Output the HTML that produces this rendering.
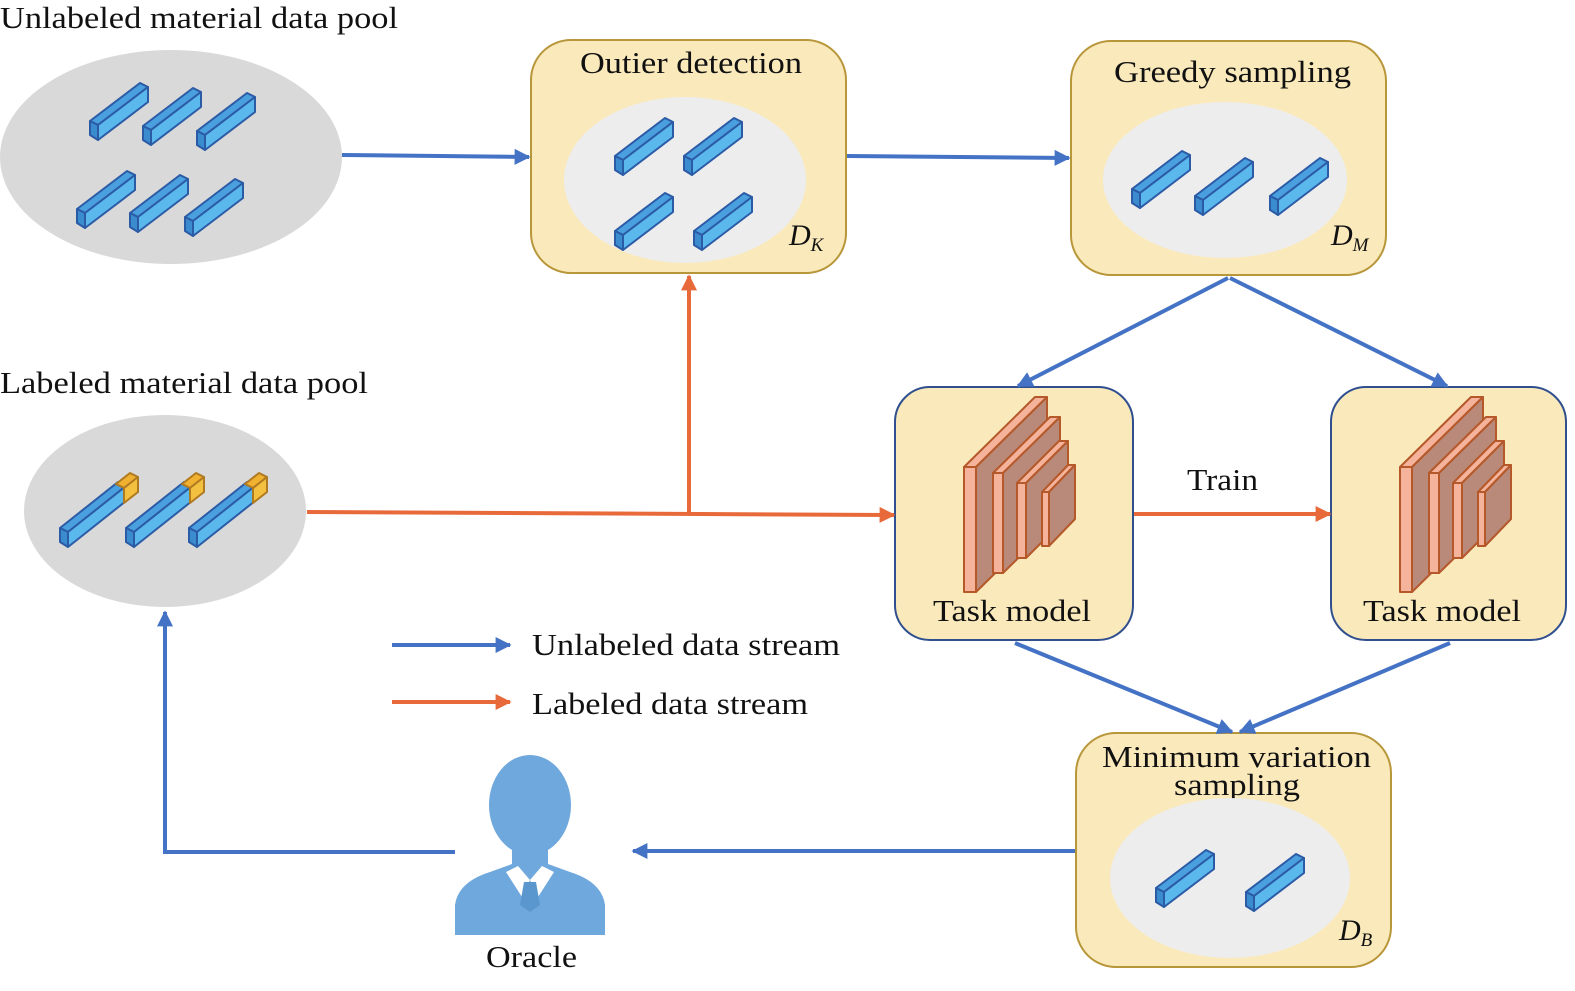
<!DOCTYPE html>
<html><head><meta charset="utf-8"><style>
html,body{margin:0;padding:0;background:#fff;}
svg{display:block;}
text{font-family:"Liberation Serif",serif;fill:#111;}
</style></head><body>
<svg width="1575" height="991" viewBox="0 0 1575 991" xmlns="http://www.w3.org/2000/svg">
<defs>
<g id="bar" stroke="#2c5ba6" stroke-width="2" stroke-linejoin="round">
  <polygon points="0,0 50,-38 58,-34 8,4" fill="#4a9fde"/>
  <polygon points="8,4 58,-34 58,-19 8,19" fill="#5bb8ec"/>
  <polygon points="0,0 8,4 8,19 0,14" fill="#3a8ccf"/>
</g>
<g id="lbar" stroke="#2c5ba6" stroke-width="2" stroke-linejoin="round">
  <polygon points="0,0 58,-46 66,-42 8,4" fill="#4a9fde"/>
  <polygon points="8,4 66,-42 66,-27 8,19" fill="#5bb8ec"/>
  <polygon points="0,0 8,4 8,19 0,14" fill="#3a8ccf"/>
  <polygon points="56,-44 70,-55 78,-51 64,-40" fill="#f0b030" stroke="#b07a20"/>
  <polygon points="64,-40 78,-51 78,-36 64,-25" fill="#f4c040" stroke="#b07a20"/>
</g>
<g id="model" stroke="#b5582a" stroke-width="2" stroke-linejoin="round">
  <polygon points="964,467 1035,397 1047,397 976,467" fill="#f4b39a"/>
  <polygon points="976,467 1047,397 1047,522 976,592" fill="#b98a7a"/>
  <rect x="964" y="467" width="12" height="125" fill="#f4b39a"/>
  <polygon points="993,473 1050,417 1060,417 1003,473" fill="#f4b39a"/>
  <polygon points="1003,473 1060,417 1060,517 1003,573" fill="#b98a7a"/>
  <rect x="993" y="473" width="10" height="100" fill="#f4b39a"/>
  <polygon points="1017,483 1059,441 1068,441 1026,483" fill="#f4b39a"/>
  <polygon points="1026,483 1068,441 1068,516 1026,558" fill="#b98a7a"/>
  <rect x="1017" y="483" width="9" height="75" fill="#f4b39a"/>
  <polygon points="1042,492 1068,465 1075,465 1049,492" fill="#f4b39a"/>
  <polygon points="1049,492 1075,465 1075,519 1049,546" fill="#b98a7a"/>
  <rect x="1042" y="492" width="7" height="54" fill="#f4b39a"/>
</g>
<marker id="ab" viewBox="0 0 10 10" refX="9" refY="5" markerWidth="4.5" markerHeight="4" orient="auto" markerUnits="strokeWidth"><path d="M0,0 L10,5 L0,10 z" fill="#4472c4"/></marker>
<marker id="ao" viewBox="0 0 10 10" refX="9" refY="5" markerWidth="4.5" markerHeight="4" orient="auto" markerUnits="strokeWidth"><path d="M0,0 L10,5 L0,10 z" fill="#e8693a"/></marker>
</defs>

<!-- pools -->
<text x="0" y="28" font-size="31" textLength="398" lengthAdjust="spacingAndGlyphs">Unlabeled material data pool</text>
<ellipse cx="171" cy="157" rx="171" ry="107" fill="#d9d9d9"/>
<use href="#bar" x="90" y="121"/><use href="#bar" x="143" y="126"/><use href="#bar" x="197" y="131"/>
<use href="#bar" x="77" y="209"/><use href="#bar" x="130" y="213"/><use href="#bar" x="185" y="217"/>

<text x="0" y="393" font-size="31" textLength="368" lengthAdjust="spacingAndGlyphs">Labeled material data pool</text>
<ellipse cx="165" cy="511" rx="141" ry="96" fill="#d9d9d9"/>
<use href="#lbar" x="60" y="528"/><use href="#lbar" x="126" y="528"/><use href="#lbar" x="189" y="528"/>

<!-- Outlier box -->
<rect x="531" y="40" width="315" height="233" rx="40" fill="#fae9bb" stroke="#b8963a" stroke-width="2"/>
<text x="580" y="73" font-size="31" textLength="222" lengthAdjust="spacingAndGlyphs">Outier detection</text>
<ellipse cx="685" cy="180" rx="121" ry="83" fill="#ededed"/>
<use href="#bar" x="615" y="156"/><use href="#bar" x="684" y="156"/>
<use href="#bar" x="615" y="231"/><use href="#bar" x="694" y="231"/>
<text x="789" y="245" font-size="30" font-style="italic">D<tspan font-size="19" dy="6">K</tspan></text>

<!-- Greedy box -->
<rect x="1071" y="41" width="315" height="234" rx="40" fill="#fae9bb" stroke="#b8963a" stroke-width="2"/>
<text x="1114" y="82" font-size="31" textLength="237" lengthAdjust="spacingAndGlyphs">Greedy sampling</text>
<ellipse cx="1225" cy="180" rx="122" ry="78" fill="#ededed"/>
<use href="#bar" x="1132" y="189"/><use href="#bar" x="1195" y="196"/><use href="#bar" x="1270" y="196"/>
<text x="1331" y="245" font-size="30" font-style="italic">D<tspan font-size="19" dy="6">M</tspan></text>

<!-- Task models -->
<rect x="895" y="387" width="238" height="253" rx="35" fill="#fae9bb" stroke="#2f4f8f" stroke-width="2"/>
<use href="#model"/>
<text x="933" y="621" font-size="31" textLength="158" lengthAdjust="spacingAndGlyphs">Task model</text>
<rect x="1331" y="387" width="235" height="253" rx="35" fill="#fae9bb" stroke="#2f4f8f" stroke-width="2"/>
<use href="#model" x="436"/>
<text x="1363" y="621" font-size="31" textLength="158" lengthAdjust="spacingAndGlyphs">Task model</text>
<text x="1187" y="490" font-size="31" textLength="71" lengthAdjust="spacingAndGlyphs">Train</text>

<!-- Min variation box -->
<rect x="1076" y="733" width="315" height="234" rx="40" fill="#fae9bb" stroke="#b8963a" stroke-width="2"/>
<text x="1102" y="767" font-size="31" textLength="269" lengthAdjust="spacingAndGlyphs">Minimum variation</text>
<text x="1174" y="795" font-size="31" textLength="126" lengthAdjust="spacingAndGlyphs">sampling</text>
<ellipse cx="1230" cy="878" rx="120" ry="80" fill="#ededed"/>
<use href="#bar" x="1156" y="888"/><use href="#bar" x="1246" y="892"/>
<text x="1339" y="940" font-size="30" font-style="italic">D<tspan font-size="19" dy="6">B</tspan></text>

<!-- Oracle -->
<g fill="#6fa8dc">
  <path d="M455,935 L455,905 Q458,882 490,872 L512,864 L548,864 L570,872 Q602,882 605,905 L605,935 Z"/>
  <rect x="512" y="840" width="36" height="30"/>
  <ellipse cx="530" cy="805" rx="41" ry="50"/>
</g>
<polygon points="506,872 518,866 530,880 522,897" fill="#fff"/>
<polygon points="554,872 542,866 530,880 538,897" fill="#fff"/>
<polygon points="524,882 536,882 540,905 530,912 520,905" fill="#5b97cf"/>
<text x="486" y="967" font-size="31" textLength="91" lengthAdjust="spacingAndGlyphs">Oracle</text>

<!-- Arrows -->
<g stroke-width="4" fill="none">
  <line x1="342" y1="155" x2="529" y2="157" stroke="#4472c4" marker-end="url(#ab)"/>
  <line x1="847" y1="156" x2="1069" y2="158" stroke="#4472c4" marker-end="url(#ab)"/>
  <line x1="1228" y1="278" x2="1018" y2="386" stroke="#4472c4" marker-end="url(#ab)"/>
  <line x1="1230" y1="278" x2="1447" y2="386" stroke="#4472c4" marker-end="url(#ab)"/>
  <line x1="1015" y1="643" x2="1232" y2="732" stroke="#4472c4" marker-end="url(#ab)"/>
  <line x1="1450" y1="643" x2="1240" y2="732" stroke="#4472c4" marker-end="url(#ab)"/>
  <line x1="1075" y1="851" x2="633" y2="851" stroke="#4472c4" marker-end="url(#ab)"/>
  <polyline points="455,852 165,852 165,612" stroke="#4472c4" marker-end="url(#ab)"/>
  <line x1="307" y1="512" x2="894" y2="515" stroke="#e8693a" marker-end="url(#ao)"/>
  <line x1="689" y1="513" x2="689" y2="276" stroke="#e8693a" marker-end="url(#ao)"/>
  <line x1="1134" y1="514" x2="1330" y2="514" stroke="#e8693a" marker-end="url(#ao)"/>
  <line x1="392" y1="645" x2="510" y2="645" stroke="#4472c4" marker-end="url(#ab)"/>
  <line x1="392" y1="702" x2="510" y2="702" stroke="#e8693a" marker-end="url(#ao)"/>
</g>
<text x="532" y="655" font-size="31" textLength="308" lengthAdjust="spacingAndGlyphs">Unlabeled data stream</text>
<text x="532" y="714" font-size="31" textLength="276" lengthAdjust="spacingAndGlyphs">Labeled data stream</text>
</svg>
</body></html>
